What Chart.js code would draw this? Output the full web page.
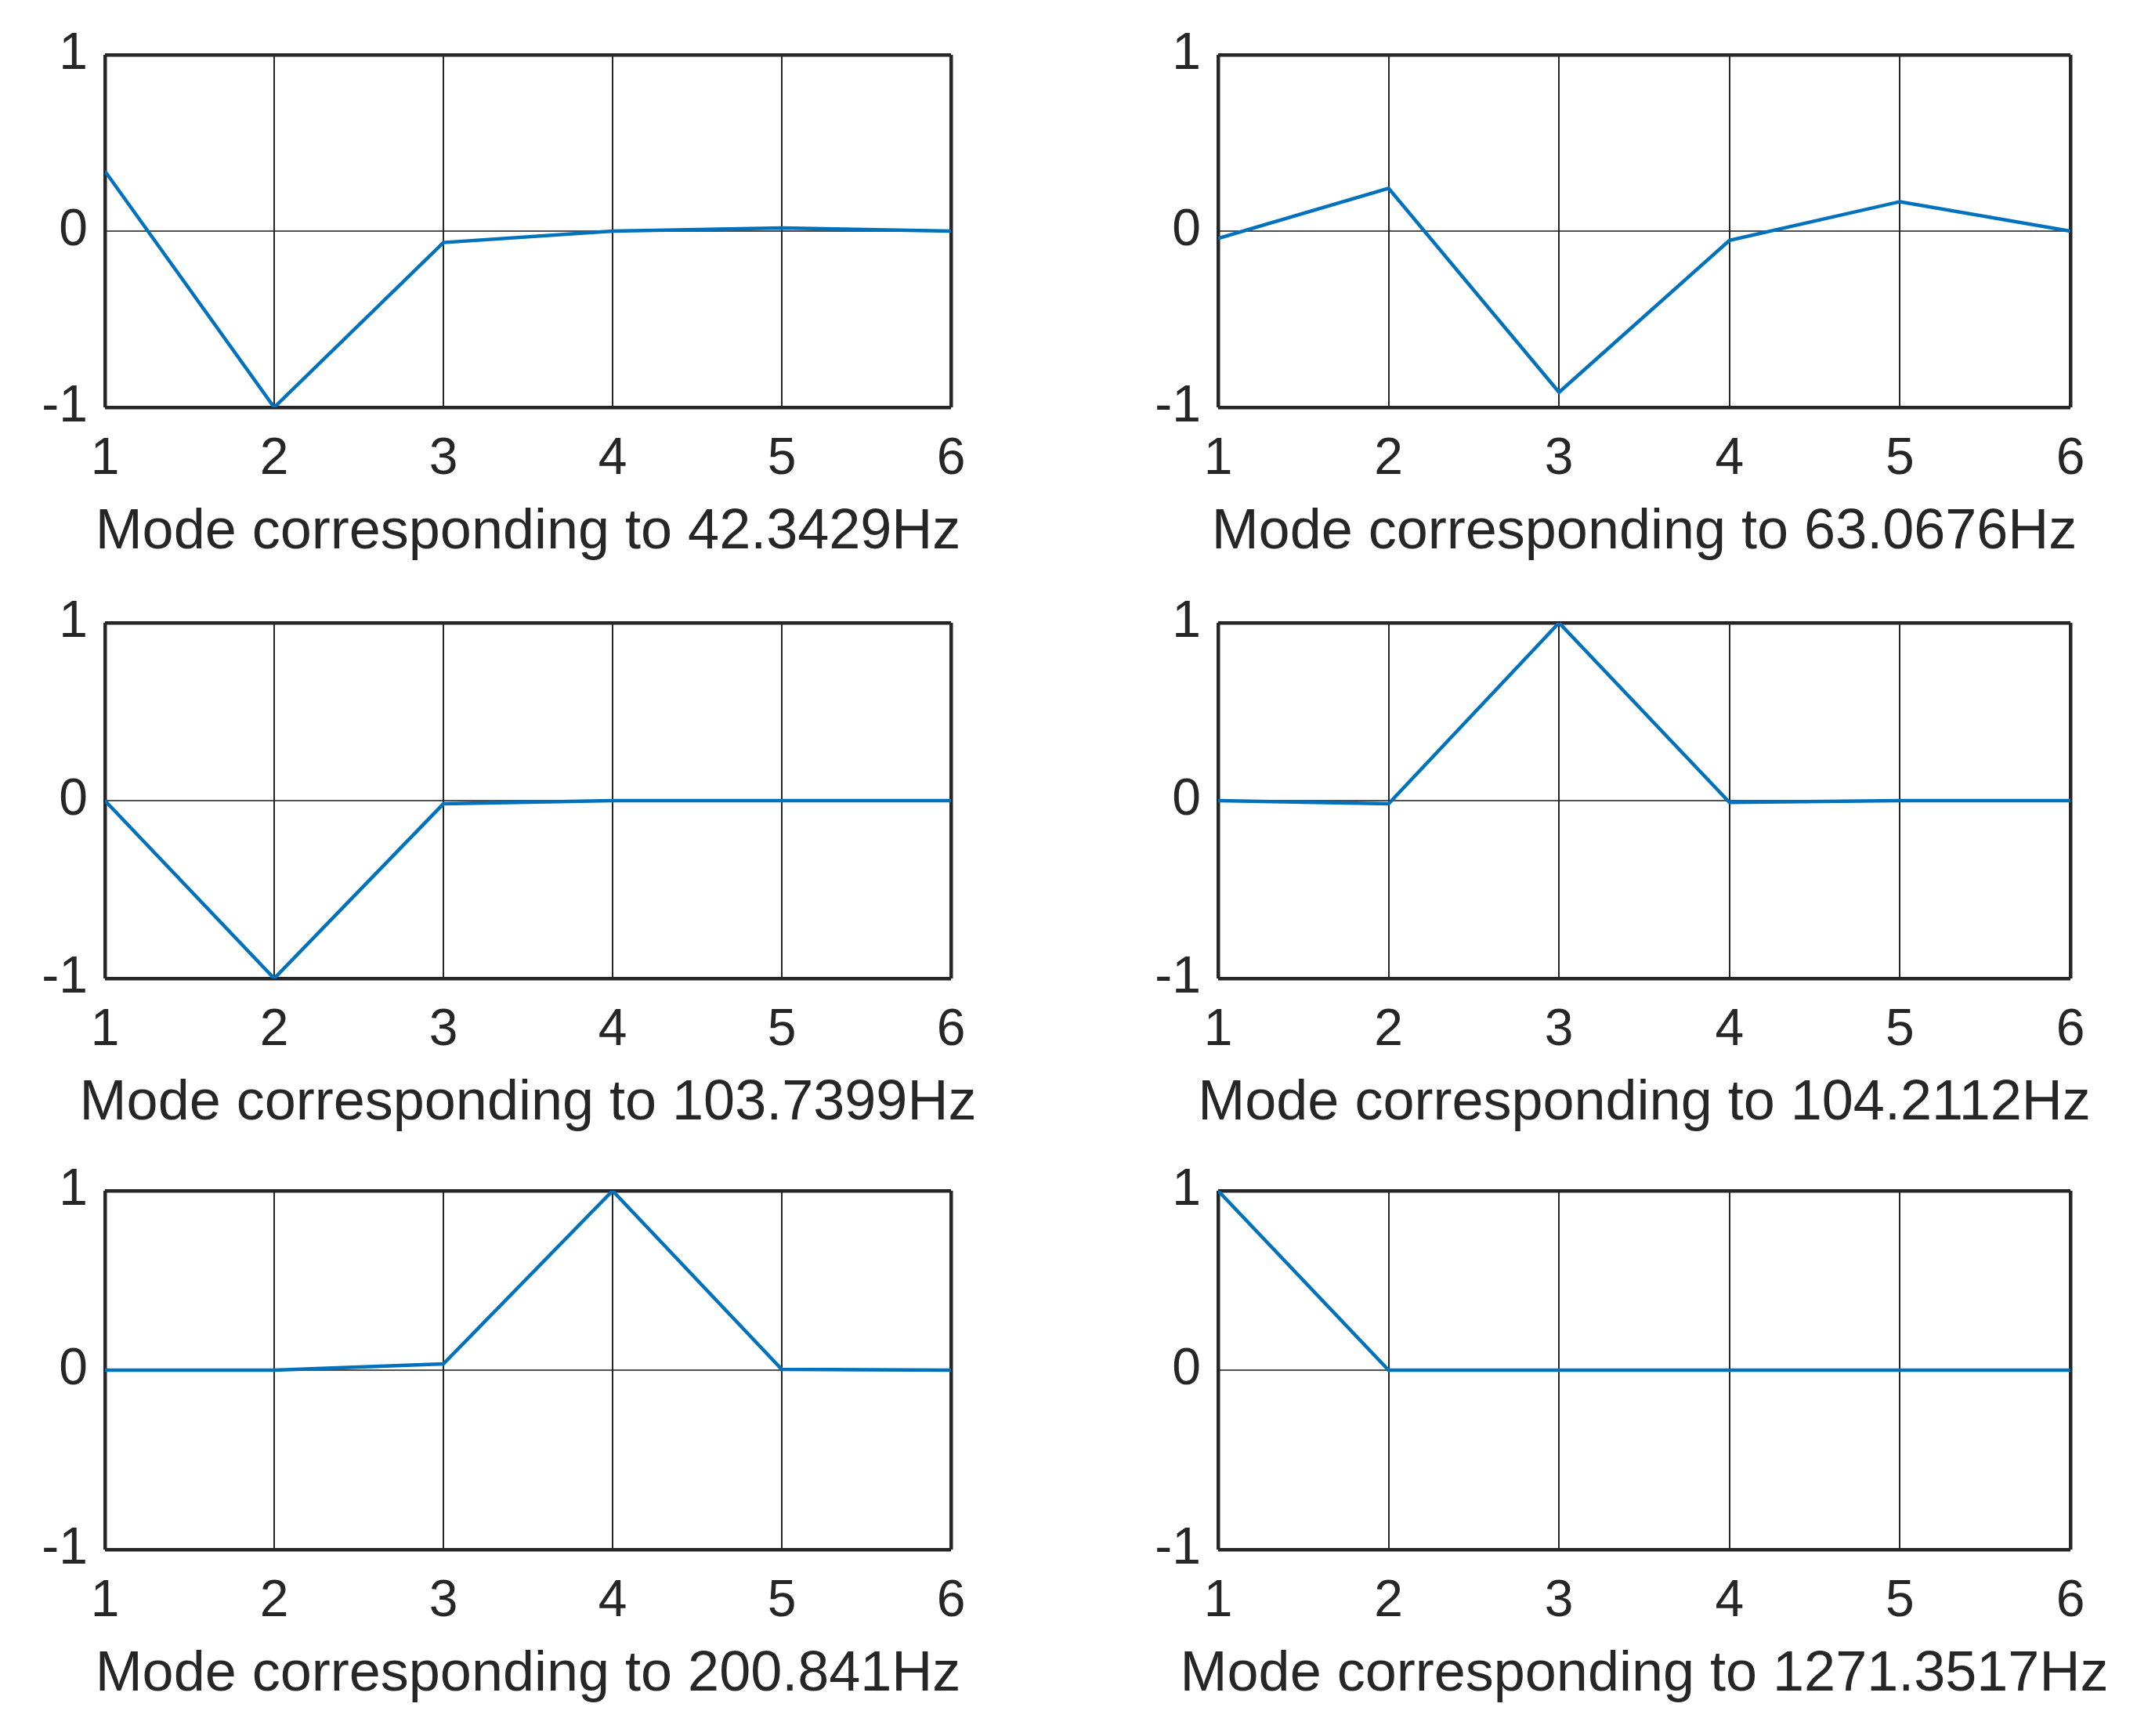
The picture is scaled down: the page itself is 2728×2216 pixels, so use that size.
<!DOCTYPE html>
<html>
<head>
<meta charset="utf-8">
<script src="https://cdn.jsdelivr.net/npm/chart.js@4/dist/chart.umd.min.js"></script>
<style>
  html, body { margin: 0; padding: 0; background: #ffffff; }
  body { width: 2728px; height: 2216px; position: relative; overflow: hidden; }
  canvas { position: absolute; }
</style>
</head>
<body>
<canvas id="c1"></canvas>
<canvas id="c2"></canvas>
<canvas id="c3"></canvas>
<canvas id="c4"></canvas>
<canvas id="c5"></canvas>
<canvas id="c6"></canvas>
<script>
// 節点番号（横軸）
const nodes = [1, 2, 3, 4, 5, 6];

// 各モードの正規化振幅
const mode1 = [0.34, -1, -0.065, 0, 0.018, 0];
const mode2 = [-0.042, 0.243, -0.914, -0.052, 0.167, 0];
const mode3 = [0, -1, -0.018, 0, 0, 0];
const mode4 = [0, -0.018, 1, -0.01, 0, 0];
const mode5 = [0, 0, 0.035, 1, 0.004, 0];
const mode6 = [1, 0, 0, 0, 0, 0];

// 固有振動数ラベル
const frequencies = ['42.3429', '63.0676', '103.7399', '104.2112', '200.841', '1271.3517'];

const yTicks = [-1, 0, 1];

const TEXT = '#262626';
const LINE = '#0072BD';
const FONT = '"Liberation Sans", Arial, Helvetica, sans-serif';

const Y_AXIS_W = 134;
const X_AXIS_H = 205;
const PAD_TOP = 90;   // y tick label padding + half label height must fit
const PAD_RIGHT = 80; // x tick label padding + half "6" must fit
const TITLE_OFFSET = 160;

// plot box in page pixels: [left, top, width, height]
const boxes = [
  [134, 70, 1080, 450],
  [1555, 70, 1088, 450],
  [134, 795, 1080, 454],
  [1555, 795, 1088, 454],
  [134, 1520, 1080, 458],
  [1555, 1520, 1088, 458]
];

const modes = [mode1, mode2, mode3, mode4, mode5, mode6];

const isEdge = (ctx, a, b) => ctx.tick && (ctx.tick.value === a || ctx.tick.value === b);

/**
 * x軸タイトル（軸幅より長くても縮めずに描く）
 */
const modeTitle = {
  id: 'modeTitle',
  afterDraw(chart, args, opts) {
    const { ctx, chartArea } = chart;
    ctx.save();
    ctx.font = `72px ${FONT}`;
    ctx.fillStyle = TEXT;
    ctx.textAlign = 'center';
    ctx.textBaseline = 'middle';
    ctx.fillText(opts.text, (chartArea.left + chartArea.right) / 2, chartArea.bottom + TITLE_OFFSET);
    ctx.restore();
  }
};

function drawMode(canvasId, values, freq, box) {
  const canvas = document.getElementById(canvasId);
  const [left, top, w, h] = box;
  const cw = Y_AXIS_W + w + PAD_RIGHT;
  const ch = PAD_TOP + h + X_AXIS_H;
  canvas.width = cw;
  canvas.height = ch;
  canvas.style.left = (left - Y_AXIS_W) + 'px';
  canvas.style.top = (top - PAD_TOP) + 'px';
  canvas.style.width = cw + 'px';
  canvas.style.height = ch + 'px';

  new Chart(canvas.getContext('2d'), {
    type: 'line',
    data: {
      datasets: [{
        data: nodes.map((n, i) => ({ x: n, y: values[i] })),
        borderColor: LINE,
        borderWidth: 4.5,
        pointRadius: 0,
        tension: 0,
        fill: false
      }]
    },
    options: {
      responsive: false,
      animation: false,
      devicePixelRatio: 1,
      layout: { padding: { top: PAD_TOP, right: PAD_RIGHT, bottom: 0, left: 0 } },
      plugins: {
        legend: { display: false },
        tooltip: { enabled: false },
        modeTitle: { text: `Mode corresponding to ${freq}Hz` }
      },
      scales: {
        x: {
          type: 'linear',
          min: 1,
          max: 6,
          afterFit: s => { s.height = X_AXIS_H; },
          ticks: { stepSize: 1, padding: 27, color: TEXT, font: { family: FONT, size: 66 } },
          grid: {
            drawTicks: false,
            color: TEXT,
            lineWidth: ctx => isEdge(ctx, 1, 6) ? 4.5 : 2
          },
          border: { display: false }
        },
        y: {
          min: -1,
          max: 1,
          afterFit: s => { s.width = Y_AXIS_W; },
          afterBuildTicks: s => { s.ticks = yTicks.map(v => ({ value: v })); },
          ticks: { padding: 22, color: TEXT, font: { family: FONT, size: 66 } },
          grid: {
            drawTicks: false,
            color: ctx => isEdge(ctx, -1, 1) ? TEXT : 'rgba(38,38,38,0.8)',
            lineWidth: ctx => isEdge(ctx, -1, 1) ? 4.5 : 2
          },
          border: { display: false }
        }
      }
    },
    plugins: [modeTitle]
  });
}

modes.forEach((m, i) => drawMode('c' + (i + 1), m, frequencies[i], boxes[i]));
</script>
</body>
</html>
